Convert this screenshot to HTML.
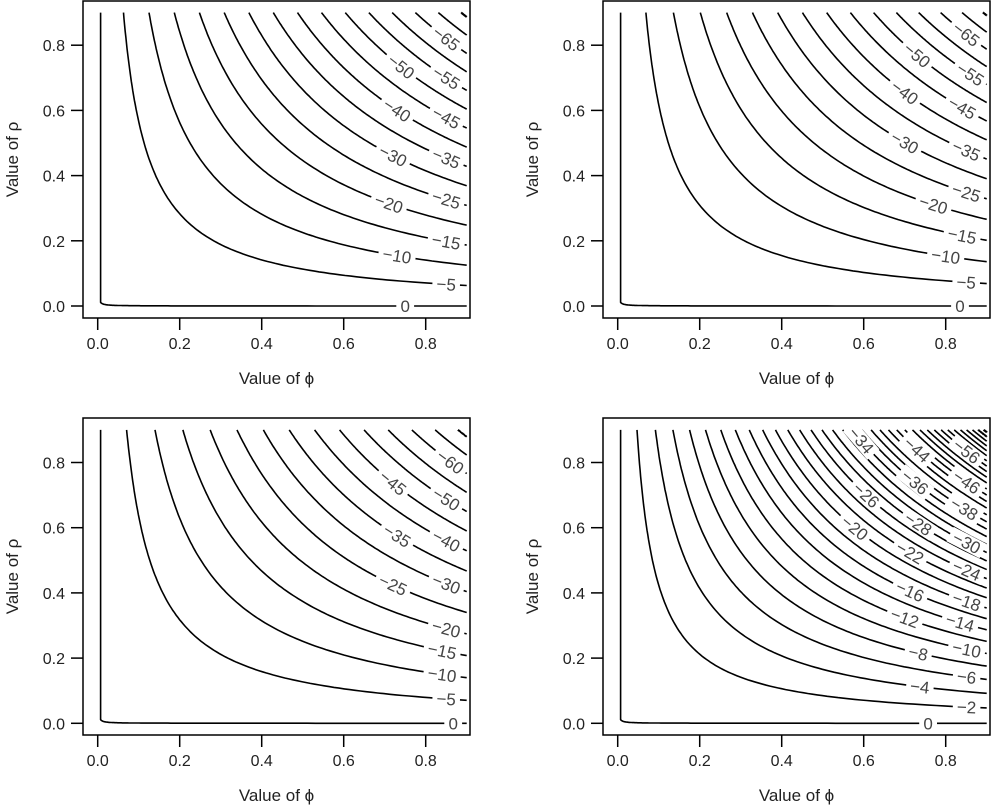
<!DOCTYPE html>
<html><head><meta charset="utf-8">
<style>
html,body{margin:0;padding:0;background:#fff;}
svg{display:block;font-family:"Liberation Sans","DejaVu Sans",sans-serif;}
</style></head>
<body>
<svg id="chart" width="1001" height="807" viewBox="0 0 1001 807" xmlns="http://www.w3.org/2000/svg"></svg>
<script>
// ---- data ----
const tickValues = [0.0, 0.2, 0.4, 0.6, 0.8];
const tickLabels = ["0.0", "0.2", "0.4", "0.6", "0.8"];
// contour levels per panel
const levelsTL = [0,-5,-10,-15,-20,-25,-30,-35,-40,-45,-50,-55,-60,-65,-70,-75];
const levelsTR = [0,-5,-10,-15,-20,-25,-30,-35,-40,-45,-50,-55,-60,-65,-70,-75];
const levelsBL = [0,-5,-10,-15,-20,-25,-30,-35,-40,-45,-50,-55,-60,-65,-70];
const levelsBR = [0,-2,-4,-6,-8,-10,-12,-14,-16,-18,-20,-22,-24,-26,-28,-30,-32,-34,-36,-38,-40,-42,-44,-46,-48,-50,-52,-54,-56,-58,-60,-62,-64,-66,-68,-70];
// labelled levels and the phi where each label sits
const labelLevelsTL = [0,-5,-10,-15,-20,-25,-30,-35,-40,-45,-50,-55,-65];
const labelPhiTL    = [0.75,0.85,0.73,0.85,0.71,0.85,0.72,0.85,0.73,0.85,0.74,0.85,0.85];
const labelLevelsTR = [0,-5,-10,-15,-20,-25,-30,-35,-40,-45,-50,-55,-65];
const labelPhiTR    = [0.835,0.85,0.80,0.84,0.77,0.85,0.70,0.85,0.70,0.84,0.73,0.86,0.85];
const labelLevelsBL = [0,-5,-10,-15,-20,-25,-30,-35,-40,-45,-50,-60];
const labelPhiBL    = [0.867,0.85,0.84,0.84,0.85,0.72,0.85,0.73,0.85,0.72,0.85,0.86];
const labelLevelsBR = [0,-2,-4,-6,-8,-10,-12,-14,-16,-18,-20,-22,-24,-26,-28,-30,-34,-36,-38,-44,-46,-56];
const labelPhiBR    = [0.757,0.851,0.737,0.851,0.733,0.851,0.70,0.835,0.713,0.851,0.578,0.713,0.851,0.606,0.733,0.851,0.594,0.725,0.845,0.73,0.851,0.851];
// surface parameters: level L = -a*c/(1-b*c) with c = phi*rho
const surfA = [88, 80, 78, 46];
const surfB = [0.08, 0.18, 0.15, 0.587];

const panels = [
  {name:"top-left",  x0:97.7, y0:306,   fx:83,  fy:1,   fw:387, fh:317, levels:levelsTL, lab:labelLevelsTL, lphi:labelPhiTL, k:0},
  {name:"top-right", x0:617.7,y0:306,   fx:603, fy:1,   fw:387, fh:317, levels:levelsTR, lab:labelLevelsTR, lphi:labelPhiTR, k:1},
  {name:"bottom-left",x0:97.7,y0:723.3, fx:83,  fy:418, fw:387, fh:317, levels:levelsBL, lab:labelLevelsBL, lphi:labelPhiBL, k:2},
  {name:"bottom-right",x0:617.7,y0:723.3,fx:603,fy:418, fw:387, fh:317, levels:levelsBR, lab:labelLevelsBR, lphi:labelPhiBR, k:3}
];
const XS = 410, YS = 326;
const NS = "http://www.w3.org/2000/svg";
const svg = document.getElementById('chart');
function mk(tag, attrs, parent){
  const e = document.createElementNS(NS, tag);
  for (const k in attrs) e.setAttribute(k, attrs[k]);
  (parent||svg).appendChild(e);
  return e;
}
function cOf(L, p){ const v=-L; const c = v/(surfA[p.k] + surfB[p.k]*v); return Math.max(c, 8e-5); }

panels.forEach(p=>{
  const g = mk('g', {});
  
  
  const sx = v => p.x0 + v*XS, sy = v => p.y0 - v*YS;
  const cg = mk('g', {}, g);
  
  
  p.levels.forEach(L=>{
    const c = cOf(L, p);
    let pts = [];
    let pmin = Math.max(c/0.9, 0.007);
    if (c/0.9 < 0.007) pts.push([0.007, 0.9]);
    const N = 120;
    for (let i=0;i<=N;i++){
      const ph = pmin * Math.pow(0.9/pmin, i/N);
      pts.push([ph, Math.min(0.9, c/ph)]);
    }
    const d = pts.map((q,i)=>(i?'L':'M')+sx(q[0]).toFixed(1)+','+sy(q[1]).toFixed(1)).join('');
    const path = mk('path', {d:d, fill:'none', stroke:'#000', 'stroke-width':1.6}, cg);
    
    
  });
  p.lab.forEach((L,i)=>{
    const c = cOf(L, p);
    const ph = p.lphi[i];
    const rh = c/ph;
    const x = sx(ph), y = sy(rh);
    const ang = Math.atan((c/(ph*ph))*YS/XS)*180/Math.PI;
    const txt = L===0 ? '0' : '\u2212' + Math.abs(L);
    const w = txt.length*9.8 + 8;
    const lg = mk('g', {transform:`translate(${x.toFixed(1)},${y.toFixed(1)}) rotate(${ang.toFixed(1)})`}, g);
    
    
    mk('rect', {x:-w/2, y:-8, width:w, height:16, fill:'#fff'}, lg);
    const t = mk('text', {x:0, y:6, 'text-anchor':'middle', 'font-size':17, fill:'#444'}, lg);
    t.textContent = txt;
  });
  const fr = mk('rect', {x:p.fx, y:p.fy, width:p.fw, height:p.fh, fill:'none', stroke:'#000', 'stroke-width':1.5}, g);
  
  
  const ax = mk('g', {}, g);
  
  
  const ay = mk('g', {}, g);
  
  
  const fb = p.fy + p.fh;
  tickValues.forEach((v,i)=>{
    mk('line', {x1:sx(v), x2:sx(v), y1:fb, y2:fb+12, stroke:'#000', 'stroke-width':1.5}, ax);
    const t = mk('text', {x:sx(v), y:fb+31, 'text-anchor':'middle', 'font-size':16, fill:'#222'}, ax);
    t.textContent = tickLabels[i];
    mk('line', {x1:p.fx-12, x2:p.fx, y1:sy(v), y2:sy(v), stroke:'#000', 'stroke-width':1.5}, ay);
    const u = mk('text', {x:p.fx-18, y:sy(v)+6, 'text-anchor':'end', 'font-size':16, fill:'#222'}, ay);
    u.textContent = tickLabels[i];
  });
  const xt = mk('text', {x:p.fx+p.fw/2, y:fb+66, 'text-anchor':'middle', 'font-size':17, fill:'#222'}, g);
  xt.textContent = 'Value of \u03D5';
  
  
  const yt = mk('text', {x:0, y:0, 'text-anchor':'middle', 'font-size':17, fill:'#222',
     transform:`translate(${p.fx-65},${p.fy+p.fh/2}) rotate(-90)`}, g);
  yt.textContent = 'Value of \u03C1';
  
  
});
</script>
</body></html>
